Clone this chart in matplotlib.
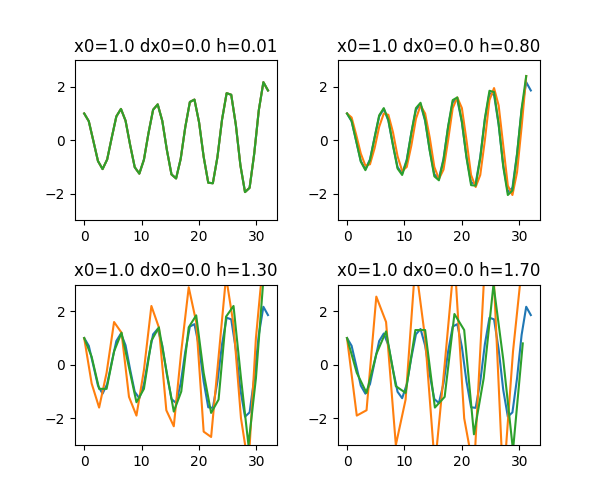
import numpy as np
from matplotlib import pyplot as plt

# reference solution sampled every 0.8
t_ref = np.arange(41) * 0.8
x_ref = [1.00, 0.71, -0.03, -0.78, -1.08, -0.72, 0.10, 0.89, 1.17, 0.73,
         -0.18, -1.01, -1.25, -0.73, 0.27, 1.14, 1.34, 0.72, -0.37, -1.28,
         -1.43, -0.70, 0.49, 1.43, 1.52, 0.67, -0.62, -1.59, -1.61, -0.63,
         0.77, 1.76, 1.70, 0.58, -0.94, -1.94, -1.78, -0.51, 1.12, 2.17, 1.86]

# h = 0.8
t_08 = np.arange(40) * 0.8
a_08 = [1.0, 0.85, 0.2, -0.5, -0.95, -0.9, -0.3, 0.5, 1.0, 0.95,
        0.3, -0.6, -1.15, -1.0, -0.2, 0.8, 1.3, 1.0, 0.1, -1.0,
        -1.45, -1.1, 0.0, 1.2, 1.6, 1.2, 0.0, -1.3, -1.75, -1.3,
        0.0, 1.5, 1.95, 1.3, -0.2, -1.7, -2.05, -1.2, 0.5, 2.4]
b_08 = [1.0, 0.72, -0.03, -0.8, -1.12, -0.75, 0.1, 0.93, 1.2, 0.76,
        -0.19, -1.06, -1.3, -0.77, 0.28, 1.2, 1.4, 0.76, -0.39, -1.35,
        -1.5, -0.74, 0.51, 1.5, 1.6, 0.7, -0.65, -1.68, -1.7, -0.66,
        0.81, 1.85, 1.8, 0.61, -0.99, -2.05, -1.88, -0.54, 1.18, 2.4]

# h = 1.3
t_13 = np.arange(25) * 1.3
a_13 = [1.0, -0.7, -1.6, -0.3, 1.6, 1.2, -1.2, -1.9, -0.2, 2.2, 1.4, -1.7,
        -2.3, 0.5, 2.9, 1.6, -2.5, -2.7, 0.3, 3.3, 1.5, -2.0, -3.8, 1.0, 4.0]
b_13 = [1.0, 0.3, -0.9, -0.9, 0.5, 1.2, -0.1, -1.4, -0.9, 0.9, 1.4, -0.2,
        -1.75, -1.0, 1.4, 1.85, -0.3, -1.8, -1.3, 1.8, 2.2, -0.5, -3.0, -0.5, 3.2]

# h = 1.7
t_17 = np.arange(19) * 1.7
a_17 = [1.0, -1.9, -1.7, 2.55, 1.6, -3.0, -1.3, 3.8, 1.0, -3.8, 0.0, 4.0,
        -2.0, -4.0, 3.0, 3.5, -4.5, 0.5, 4.0]
b_17 = [1.0, -0.3, -1.05, 0.4, 1.25, -0.8, -1.05, 1.3, 1.3, -1.6, -1.2, 1.9,
        1.3, -2.6, -0.5, 3.0, 0.2, -3.2, 0.8]

panels = [
    ('h=0.01', t_ref, x_ref, t_ref, x_ref),
    ('h=0.80', t_08, a_08, t_08, b_08),
    ('h=1.30', t_13, a_13, t_13, b_13),
    ('h=1.70', t_17, a_17, t_17, b_17),
]

fig, axes = plt.subplots(2, 2, figsize=(6, 5), dpi=100)
for ax, (h, ta, xa, tb, xb) in zip(axes.flat, panels):
    ax.plot(t_ref, x_ref)
    ax.plot(ta, xa)
    ax.plot(tb, xb)
    ax.set_ylim(-3, 3)
    ax.set_title('x0=1.0 dx0=0.0 ' + h)
plt.subplots_adjust(wspace=0.3, hspace=0.4)
plt.savefig('out.png')
